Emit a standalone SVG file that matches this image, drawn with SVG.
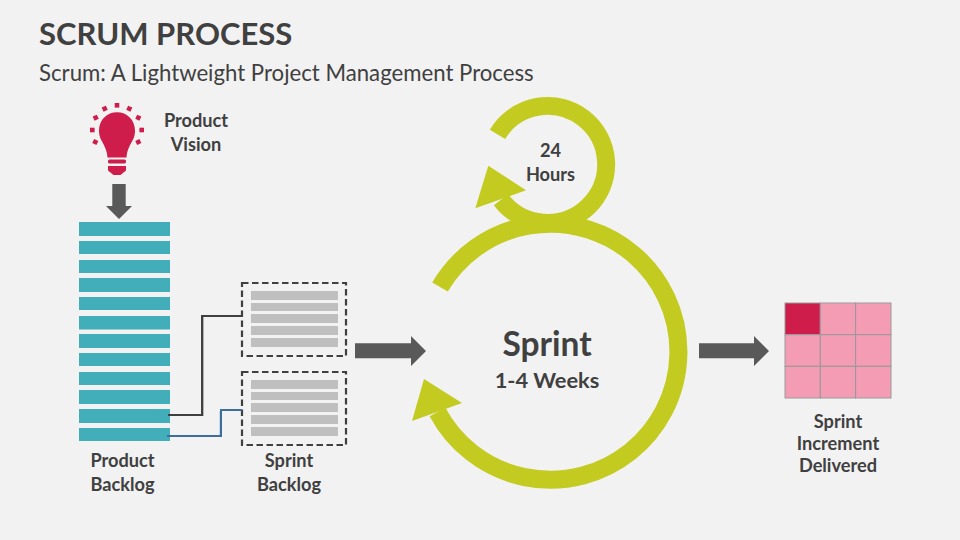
<svg xmlns="http://www.w3.org/2000/svg" width="960" height="540" viewBox="0 0 960 540">
<style>
text{font-family:"Lato","Liberation Sans",sans-serif;fill:#404040;font-weight:700;text-anchor:middle}
.lbl{font-size:18.200px}
.teal{fill:#41AEB9}
.gray{fill:#BFBFBF}
.dash{fill:none;stroke:#404040;stroke-width:2.200;stroke-dasharray:6.500 3.500}
.arc{fill:none;stroke:#C3CB21;stroke-width:18}
.head{fill:#C3CB21}
.arrow{fill:#595959}
.cell{fill:#F49CB4;stroke:#999999;stroke-width:1}
.bulb{fill:#CE1C4B}
.wire{fill:none;stroke-width:2}
</style>
<rect width="960" height="540" fill="#F2F2F2"/>
<text x="39" y="45" font-size="31" style="text-anchor:start">SCRUM PROCESS</text>
<text x="39" y="81" font-size="22.200" style="text-anchor:start;font-weight:400">Scrum: A Lightweight Project Management Process</text>

<g id="vision">
<path class="bulb" d="M107.500 157.500C107 150 104 145 101.500 140.500C99.500 137 99 134 99 130.500C99 120 107 112.300 117 112.300C127 112.300 135 120 135 130.500C135 134 134.500 137 132.500 140.500C130 145 127 150 126.500 157.500Z"/>
<rect class="bulb" x="108" y="159.500" width="18" height="4" rx="1.500"/>
<path class="bulb" d="M108 166H126V170.500L120.500 175H113.500L108 170.500Z"/>
<g class="bulb">
<rect x="114.700" y="103" width="4.600" height="4.600"/>
<rect x="102.400" y="106.400" width="4.600" height="4.600" transform="rotate(-25 104.700 108.700)"/>
<rect x="127" y="106.400" width="4.600" height="4.600" transform="rotate(25 129.300 108.700)"/>
<rect x="93.400" y="115.400" width="4.600" height="4.600" transform="rotate(-25 95.700 117.700)"/>
<rect x="136" y="115.400" width="4.600" height="4.600" transform="rotate(25 138.300 117.700)"/>
<rect x="90" y="127.700" width="4.600" height="4.600"/>
<rect x="139.400" y="127.700" width="4.600" height="4.600"/>
<rect x="93" y="139.700" width="4.600" height="4.600" transform="rotate(25 95.300 142)"/>
<rect x="136" y="139.700" width="4.600" height="4.600" transform="rotate(-25 138.300 142)"/>
</g>
<text class="lbl" x="196" y="127">Product</text>
<text class="lbl" x="196" y="151">Vision</text>
</g>

<g id="product-backlog">
<rect class="teal" x="79" y="222" width="91" height="14"/>
<rect class="teal" x="79" y="241" width="91" height="13"/>
<rect class="teal" x="79" y="260" width="91" height="13"/>
<rect class="teal" x="79" y="278" width="91" height="14"/>
<rect class="teal" x="79" y="297" width="91" height="13"/>
<rect class="teal" x="79" y="316" width="91" height="13.500"/>
<rect class="teal" x="79" y="334" width="91" height="14"/>
<rect class="teal" x="79" y="353" width="91" height="13"/>
<rect class="teal" x="79" y="372" width="91" height="13"/>
<rect class="teal" x="79" y="390" width="91" height="14"/>
<rect class="teal" x="79" y="409" width="91" height="14"/>
<rect class="teal" x="79" y="428" width="91" height="13"/>
<text class="lbl" x="122.500" y="467">Product</text>
<text class="lbl" x="122.500" y="491">Backlog</text>
</g>

<g id="sprint-backlog">
<rect class="dash" x="242" y="283" width="104" height="73"/>
<rect class="gray" x="251" y="291" width="87" height="9"/>
<rect class="gray" x="251" y="303" width="87" height="8"/>
<rect class="gray" x="251" y="314" width="87" height="9"/>
<rect class="gray" x="251" y="326" width="87" height="9"/>
<rect class="gray" x="251" y="338" width="87" height="9"/>
<rect class="dash" x="242" y="372" width="104" height="73"/>
<rect class="gray" x="251" y="380" width="87" height="9"/>
<rect class="gray" x="251" y="392" width="87" height="8"/>
<rect class="gray" x="251" y="403" width="87" height="9"/>
<rect class="gray" x="251" y="415" width="87" height="9"/>
<rect class="gray" x="251" y="427" width="87" height="9"/>
<text class="lbl" x="289" y="467">Sprint</text>
<text class="lbl" x="289" y="491">Backlog</text>
</g>

<g id="connectors">
<path class="wire" stroke="#404040" stroke-opacity=".35" d="M203 416V317"/>
<path class="wire" stroke="#3E6E9E" stroke-opacity=".2" d="M220 436V411"/>
<path class="wire" stroke="#404040" d="M168 415H202V316H242"/>
<path class="wire" stroke="#3E6E9E" d="M167 436H221V410H242"/>
<polygon class="arrow" points="112.300,184 125.700,184 125.700,206 132,206 119,219 106,206 112.300,206"/>
<polygon class="arrow" points="355,343.300 411,343.300 411,336 426,351 411,366 411,358.300 355,358.300"/>
<polygon class="arrow" points="699,343.300 754,343.300 754,336 769,351 754,366 754,358.300 699,358.300"/>
</g>

<g id="daily-cycle">
<path class="arc" d="M497.500 134.300A58.500 58.500 0 1 1 501 199.700"/>
<polygon class="head" points="488.300,165.700 475.300,208.300 526,190.300"/>
<text class="lbl" x="550.500" y="157">24</text>
<text class="lbl" x="550.500" y="181">Hours</text>
</g>

<g id="sprint-cycle">
<path class="arc" d="M440 287A128 128 0 1 1 437.500 412"/>
<polygon class="head" points="424,379 412,421 462,403"/>
<text x="547" y="356" font-size="33.500">Sprint</text>
<text x="547" y="388" font-size="21.800">1-4 Weeks</text>
</g>

<g id="increment">
<rect class="cell" x="785" y="303" width="35.300" height="31.700" style="fill:#CE1C4B"/>
<rect class="cell" x="820.300" y="303" width="35.300" height="31.700"/>
<rect class="cell" x="855.600" y="303" width="35.400" height="31.700"/>
<rect class="cell" x="785" y="334.700" width="35.300" height="31.600"/>
<rect class="cell" x="820.300" y="334.700" width="35.300" height="31.600"/>
<rect class="cell" x="855.600" y="334.700" width="35.400" height="31.600"/>
<rect class="cell" x="785" y="366.300" width="35.300" height="31.700"/>
<rect class="cell" x="820.300" y="366.300" width="35.300" height="31.700"/>
<rect class="cell" x="855.600" y="366.300" width="35.400" height="31.700"/>
<text class="lbl" x="838" y="428">Sprint</text>
<text class="lbl" x="838" y="450">Increment</text>
<text class="lbl" x="838" y="472">Delivered</text>
</g>
</svg>
